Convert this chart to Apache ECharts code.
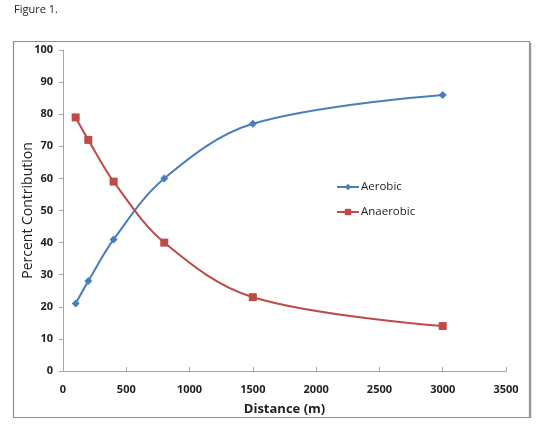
<!DOCTYPE html>
<html><head><meta charset="utf-8">
<script src="https://cdn.jsdelivr.net/npm/echarts@6/dist/echarts.min.js"></script>
<style>html,body{margin:0;padding:0;background:#fff}#c{width:556px;height:436px}</style>
</head><body><div id="c"></div>
<script>
const distances = [100, 200, 400, 800, 1500, 3000];
const aerobic = [21, 28, 41, 60, 77, 86];
const anaerobic = [79, 72, 59, 40, 23, 14];
const seriesNames = ['Aerobic', 'Anaerobic'];

const chart = echarts.init(document.getElementById('c'));
const font = "'Open Sans', 'Liberation Sans', sans-serif";
chart.setOption({
  animation: false,
  backgroundColor: '#fff',
  textStyle: {fontFamily: font},
  graphic: [
    {type: 'text', left: 14, top: 4, style: {text: 'Figure 1.', fontSize: 11, fontFamily: font, fill: '#222'}},
    {type: 'rect', shape: {x: 13.5, y: 41.5, width: 516, height: 376}, style: {fill: 'none', stroke: '#8c8c8c', lineWidth: 1.2}, z: -1},
    {type: 'line', shape: {x1: 530.5, y1: 43, x2: 530.5, y2: 418}, style: {stroke: '#9a9a9a', lineWidth: 1.5}, z: -1}
  ],
  grid: {left: 63, right: 50, top: 50, bottom: 65},
  legend: {
    data: seriesNames, orient: 'vertical', left: 331, top: 176, itemGap: 13,
    itemWidth: 22, itemHeight: 8,
    textStyle: {fontSize: 11.5, color: '#222', fontFamily: font, padding: [0, 0, 0, -3]}
  },
  xAxis: {
    type: 'value', min: 0, max: 3500, interval: 500,
    name: 'Distance (m)', nameLocation: 'middle', nameGap: 32,
    nameTextStyle: {fontSize: 13, fontWeight: 'bold', color: '#222'},
    axisLine: {lineStyle: {color: '#a6a6a6'}},
    axisTick: {show: true, inside: true, length: 4, lineStyle: {color: '#a6a6a6'}},
    axisLabel: {fontSize: 11, fontWeight: 'bold', color: '#222', margin: 13, formatter: v => String(v)},
    splitLine: {show: false}
  },
  yAxis: {
    type: 'value', min: 0, max: 100, interval: 10,
    name: 'Percent Contribution', nameLocation: 'middle', nameGap: 28, nameMoveOverlap: false,
    nameTextStyle: {fontSize: 14, color: '#222'},
    axisLine: {show: true, lineStyle: {color: '#a6a6a6'}},
    axisTick: {show: true, length: 4, lineStyle: {color: '#a6a6a6'}},
    axisLabel: {fontSize: 11, fontWeight: 'bold', color: '#222', margin: 10},
    splitLine: {show: false}
  },
  series: [
    {name: seriesNames[0], type: 'line', smooth: 0.35, data: distances.map((d, i) => [d, aerobic[i]]),
     symbol: 'diamond', symbolSize: 8, lineStyle: {width: 2, color: '#4a7ebb'}, itemStyle: {color: '#4a7ebb'}},
    {name: seriesNames[1], type: 'line', smooth: 0.35, data: distances.map((d, i) => [d, anaerobic[i]]),
     symbol: 'rect', symbolSize: 8, lineStyle: {width: 2, color: '#be4b48'}, itemStyle: {color: '#be4b48'}}
  ]
});
</script></body></html>
